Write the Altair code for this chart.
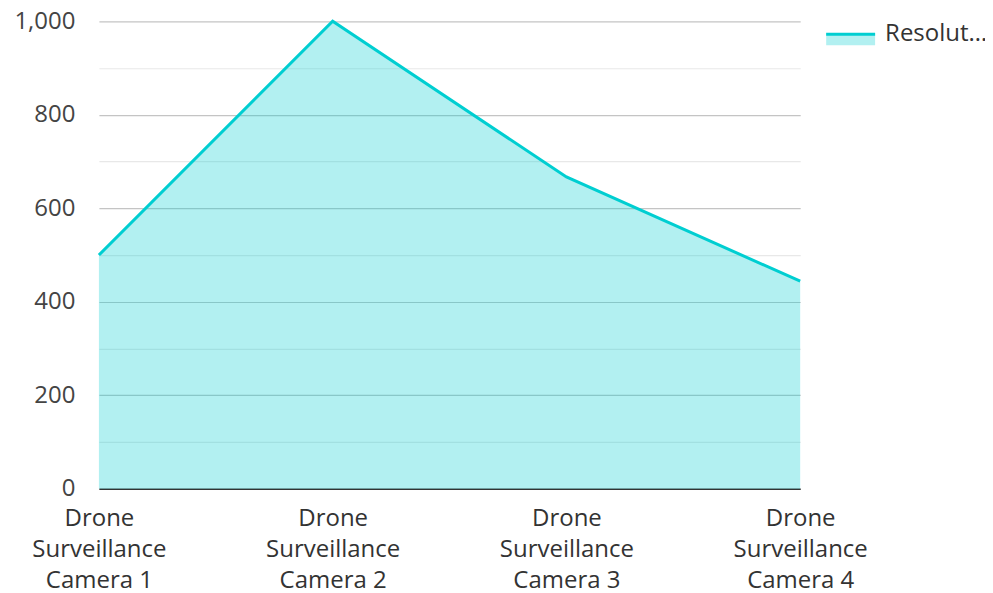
import altair as alt
import pandas as pd

categories = ["Drone Surveillance Camera 1", "Drone Surveillance Camera 2",
              "Drone Surveillance Camera 3", "Drone Surveillance Camera 4"]
values = [500, 1000, 667, 444]
series_name = "Resolut…"

df = pd.DataFrame({"camera": categories, "value": values})

LINE = "#00CED1"
FONT = "Open Sans"
FS = 24

x = alt.X("camera:N", sort=categories,
          scale=alt.Scale(type="point", padding=0),
          axis=alt.Axis(title=None, labelAngle=0, ticks=False, grid=False,
                        domainColor="#333333", domainWidth=1.5,
                        labelFontSize=FS, labelColor="#333333", labelFont=FONT,
                        labelPadding=18, labelLineHeight=31,
                        labelExpr="[slice(datum.label,0,5), slice(datum.label,6,18), slice(datum.label,19)]"))
y = alt.Y("value:Q", scale=alt.Scale(domain=[0, 1000], nice=False),
          axis=alt.Axis(title=None, values=list(range(0, 1001, 100)), ticks=False,
                        domain=False, labelFontSize=FS, labelColor="#444444", labelFont=FONT,
                        labelPadding=24,
                        labelExpr="datum.value % 200 === 0 ? datum.label : ''",
                        gridColor={"condition": {"test": "datum.value % 200 === 0", "value": "#c4c4c4"},
                                   "value": "#e8e8e8"},
                        gridWidth=1.2))

area = alt.Chart(df).mark_area(color=LINE, opacity=0.3).encode(x=x, y=y)
line = alt.Chart(df).mark_line(color=LINE, strokeWidth=3).encode(x=x, y=y)

leg_df = pd.DataFrame({"name": [series_name]})
leg_rect = alt.Chart(leg_df).mark_rect(color=LINE, opacity=0.3).encode(
    x=alt.value(728), x2=alt.value(777), y=alt.value(12), y2=alt.value(24))
leg_rule = alt.Chart(leg_df).mark_rule(color=LINE, strokeWidth=3).encode(
    x=alt.value(728), x2=alt.value(777), y=alt.value(13))
leg_text = alt.Chart(leg_df).mark_text(align="left", baseline="middle", fontSize=FS,
                                       font=FONT, color="#333333").encode(
    x=alt.value(787), y=alt.value(13), text="name:N")

chart = alt.layer(area, line, leg_rect, leg_rule, leg_text).properties(
    width=702, height=468,
    autosize=alt.AutoSizeParams(type="none"),
    padding={"left": 91, "top": 13, "right": 185, "bottom": 104},
).configure_view(stroke=None)

chart.save("out.html", embed_options={"renderer": "svg", "actions": False})
